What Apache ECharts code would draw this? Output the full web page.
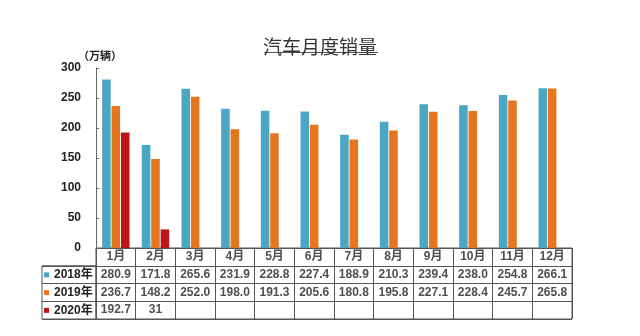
<!DOCTYPE html>
<html>
<head>
<meta charset="utf-8">
<script src="https://cdn.jsdelivr.net/npm/echarts@6/dist/echarts.min.js"></script>
<style>
  html, body { margin: 0; padding: 0; background: #fff; }
  #main { width: 640px; height: 336px; }
</style>
</head>
<body>
<div id="main"></div>
<script>
var months = ['1月', '2月', '3月', '4月', '5月', '6月', '7月', '8月', '9月', '10月', '11月', '12月'];
var seriesNames = ['2018年', '2019年', '2020年'];
var sales2018 = [280.9, 171.8, 265.6, 231.9, 228.8, 227.4, 188.9, 210.3, 239.4, 238.0, 254.8, 266.1];
var sales2019 = [236.7, 148.2, 252.0, 198.0, 191.3, 205.6, 180.8, 195.8, 227.1, 228.4, 245.7, 265.8];
var sales2020 = [192.7, 31];
var yMin = 0, yMax = 300, yStep = 50;

var colors = ['#4aa6c2', '#e5761f', '#bd141b'];
var font = 'Arial, "Liberation Sans", "Noto Sans CJK SC", sans-serif';

// table cells: row 0 = month header, rows 1..3 = yearly values
var tableRows = ['月份'].concat(seriesNames);
var cells = [];
months.forEach(function (m, i) { cells.push([i, 0, m]); });
sales2018.forEach(function (v, i) { cells.push([i, 1, v.toFixed(1)]); });
sales2019.forEach(function (v, i) { cells.push([i, 2, v.toFixed(1)]); });
sales2020.forEach(function (v, i) { cells.push([i, 3, String(v)]); });

function fill(arr) {
  return months.map(function (m, i) { return i < arr.length ? arr[i] : null; });
}

var chart = echarts.init(document.getElementById('main'));

var lineColor = '#555';

var option = {
  animation: false,
  backgroundColor: '#fff',
  textStyle: { fontFamily: font },
  title: {
    text: '汽车月度销量',
    left: 'center',
    top: 32,
    textStyle: { fontSize: 19, fontWeight: 'normal', color: '#333', fontFamily: '"Noto Sans CJK SC", sans-serif' }
  },
  graphic: [
    { type: 'line', shape: { x1: 264, y1: 52.5, x2: 378, y2: 52.5 }, style: { stroke: '#555', lineWidth: 1 } }
  ],
  legend: {
    orient: 'vertical',
    left: 44,
    top: 266,
    padding: 0,
    itemGap: 0,
    itemWidth: 5,
    itemHeight: 5,
    icon: 'rect',
    selectedMode: false,
    data: seriesNames,
    textStyle: { fontSize: 12, fontWeight: 'bold', color: '#222', lineHeight: 17.75, fontFamily: font }
  },
  grid: [
    { left: 96, right: 68, top: 68, bottom: 88 },
    { left: 96, right: 68, top: 248, height: 71, show: true, borderColor: lineColor, borderWidth: 1 },
    { left: 42, width: 54, top: 265.75, height: 53.25, show: true, borderColor: lineColor, borderWidth: 1 }
  ],
  xAxis: [
    {
      gridIndex: 0, type: 'category', data: months,
      axisLine: { show: true, lineStyle: { color: lineColor } },
      axisTick: { show: false }, axisLabel: { show: false }
    },
    {
      gridIndex: 1, type: 'category', data: months,
      axisLine: { show: false }, axisTick: { show: false }, axisLabel: { show: false },
      splitLine: { show: true, interval: 0, lineStyle: { color: lineColor } }
    },
    { gridIndex: 2, type: 'value', min: 0, max: 1, show: false }
  ],
  yAxis: [
    {
      gridIndex: 0, type: 'value', min: yMin, max: yMax, interval: yStep,
      name: '（万辆）', nameLocation: 'end', nameGap: 5,
      nameTextStyle: { fontSize: 11, fontWeight: 'bold', color: '#222', padding: [0, 0, 0, 8], fontFamily: font },
      axisLine: { show: true, lineStyle: { color: '#666' } },
      axisTick: { show: true, inside: true, length: 3, lineStyle: { color: '#666' } },
      axisLabel: { fontSize: 12, fontWeight: 'bold', color: '#222', margin: 15, fontFamily: font },
      splitLine: { show: false }
    },
    {
      gridIndex: 1, type: 'category', data: tableRows, inverse: true,
      axisLine: { show: false }, axisTick: { show: false }, axisLabel: { show: false },
      splitLine: { show: true, interval: 0, lineStyle: { color: lineColor } }
    },
    {
      gridIndex: 2, type: 'category', data: seriesNames, inverse: true,
      axisLine: { show: false }, axisTick: { show: false }, axisLabel: { show: false },
      splitLine: { show: true, interval: 0, lineStyle: { color: lineColor } }
    }
  ],
  series: [
    { name: seriesNames[0], type: 'bar', data: sales2018, itemStyle: { color: colors[0] }, barGap: '10%', barCategoryGap: '31%' },
    { name: seriesNames[1], type: 'bar', data: sales2019, itemStyle: { color: colors[1] }, barGap: '10%', barCategoryGap: '31%' },
    { name: seriesNames[2], type: 'bar', data: fill(sales2020), itemStyle: { color: colors[2] }, barGap: '10%', barCategoryGap: '31%' },
    {
      type: 'scatter', xAxisIndex: 1, yAxisIndex: 1, symbolSize: 0, silent: true,
      data: cells,
      label: {
        show: true, position: 'inside',
        formatter: function (p) { return p.value[2]; },
        fontSize: 12, fontWeight: 'bold', color: '#222', fontFamily: font
      }
    }
  ]
};

chart.setOption(option);
</script>
</body>
</html>
